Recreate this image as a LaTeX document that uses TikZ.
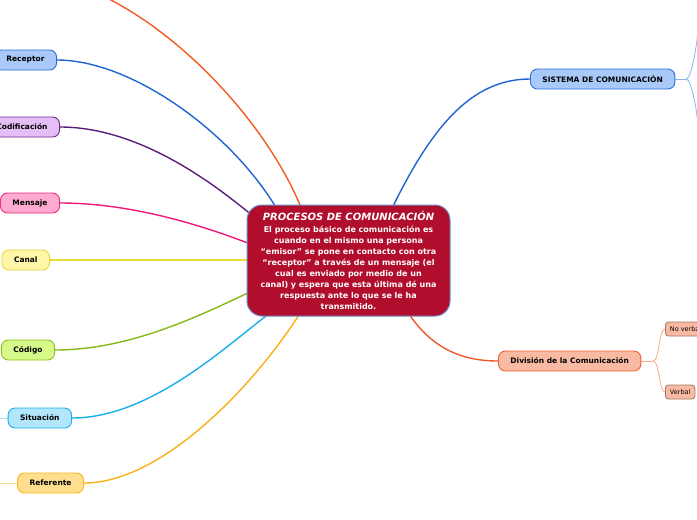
\documentclass[tikz,border=0pt]{standalone}
\usepackage{fontspec}
\newfontfamily\mapfont{DejaVu Sans}[ItalicFont={DejaVu Sans Oblique},BoldItalicFont={DejaVu Sans Bold Oblique}]
\usepackage{xcolor}
\usetikzlibrary{backgrounds}

%% Colours of the map
\definecolor{centrofill}{RGB}{176,14,44}
\definecolor{centroborde}{RGB}{110,140,200}
\definecolor{azulfill}{RGB}{169,201,249}
\definecolor{azulborde}{RGB}{42,111,214}
\definecolor{azullinea}{RGB}{30,100,210}
\definecolor{lilafill}{RGB}{230,190,247}
\definecolor{lilaborde}{RGB}{107,42,134}
\definecolor{lilalinea}{RGB}{90,30,120}
\definecolor{rosafill}{RGB}{255,170,208}
\definecolor{rosaborde}{RGB}{238,42,123}
\definecolor{rosalinea}{RGB}{240,24,122}
\definecolor{amarfill}{RGB}{255,246,168}
\definecolor{amarborde}{RGB}{232,216,58}
\definecolor{amarlinea}{RGB}{232,220,58}
\definecolor{verdefill}{RGB}{215,249,138}
\definecolor{verdeborde}{RGB}{141,190,30}
\definecolor{verdelinea}{RGB}{134,184,24}
\definecolor{celestefill}{RGB}{178,230,252}
\definecolor{celesteborde}{RGB}{27,174,232}
\definecolor{celestelinea}{RGB}{24,174,236}
\definecolor{orofill}{RGB}{255,223,142}
\definecolor{oroborde}{RGB}{249,182,30}
\definecolor{orolinea}{RGB}{248,176,24}
\definecolor{naranjalinea}{RGB}{244,90,34}
\definecolor{salmonfill}{RGB}{249,186,164}
\definecolor{salmonborde}{RGB}{240,96,42}
\definecolor{salmonlinea}{RGB}{240,88,42}
\definecolor{pardoborde}{RGB}{160,120,102}
\definecolor{sisrama}{RGB}{142,180,238}
\definecolor{divrama}{RGB}{248,168,136}
\definecolor{sitfino}{RGB}{168,220,246}
\definecolor{reffino}{RGB}{252,216,144}

\begin{document}
\begin{tikzpicture}[x=1pt,y=-1pt,
    tema/.style={draw,rounded corners=7pt,line width=0.9pt,minimum height=20pt,
        inner xsep=12pt,inner ysep=0pt,font=\mapfont\bfseries\fontsize{7.5}{8}\selectfont},
    sub/.style={draw,rounded corners=3pt,line width=0.8pt,minimum height=14pt,
        inner xsep=4.5pt,inner ysep=0pt,font=\mapfont\fontsize{6.5}{8}\selectfont},
    rama/.style={line width=1.4pt},
    hilo/.style={line width=0.8pt}]
        \useasboundingbox (0,0) rectangle (697,520);

        %% Central idea
        \node [draw=centroborde,fill=centrofill,text=white,rounded corners=15pt,line width=1pt,
            minimum width=203pt,minimum height=111pt,align=center,
            font=\mapfont\bfseries\fontsize{8}{11}\selectfont] (centro) at (348.5,260.5)
            {{\fontsize{10}{11}\selectfont\itshape PROCESOS DE COMUNICACIÓN}\\[0.5pt]
            El proceso básico de comunicación es\\
            cuando en el mismo una persona\\
            “emisor” se pone en contacto con otra\\
            “receptor” a través de un mensaje (el\\
            cual es enviado por medio de un\\
            canal) y espera que esta última dé una\\
            respuesta ante lo que se le ha\\
            transmitido.};

        %% Left topics
        \node [tema,draw=azulborde,fill=azulfill,anchor=east] (receptor) at (57,60) {Receptor};
        \node [tema,draw=lilaborde,fill=lilafill,anchor=east] (codif) at (60,127) {Codificación};
        \node [tema,draw=rosaborde,fill=rosafill,anchor=east] (mensaje) at (60,203) {Mensaje};
        \node [tema,draw=amarborde,fill=amarfill,anchor=east] (canal) at (50,260) {Canal};
        \node [tema,draw=verdeborde,fill=verdefill,anchor=east] (codigo) at (55,350) {Código};
        \node [tema,draw=celesteborde,fill=celestefill,anchor=east] (situacion) at (72,418) {Situación};
        \node [tema,draw=oroborde,fill=orofill,anchor=east] (referente) at (84,483) {Referente};

        %% Right topics
        \node [tema,draw=azulborde,fill=azulfill,anchor=west] (sistema) at (530,79) {SISTEMA DE COMUNICACIÓN};
        \node [tema,draw=salmonborde,fill=salmonfill,anchor=west] (division) at (498,361) {División de la Comunicación};
        \node [sub,draw=pardoborde,fill=salmonfill,anchor=west] (noverbal) at (665,329) {No verbal};
        \node [sub,draw=pardoborde,fill=salmonfill,anchor=west] (verbal) at (665,392) {Verbal};

        %% Ends that leave the picture
        \coordinate (arriba) at (107,-2);
        \coordinate (sisarriba) at (699,10);
        \coordinate (sisabajo) at (699,145);
        \coordinate (sitfuera) at (-10,418);
        \coordinate (reffuera) at (-10,483);

        %% Branches
        \begin{scope}[on background layer]
        \draw [rama,naranjalinea,shorten >=-2pt] (arriba) .. controls +(83,42) and +(-31,-75) .. (centro.131);
        \draw [rama,azullinea,shorten >=-2pt] (receptor.east) .. controls +(73,0) and +(-46,-75) .. (centro.143);
        \draw [rama,lilalinea,shorten >=-3pt] (codif.east) .. controls +(80,0) and +(-32,-26) .. (centro.154);
        \draw [rama,rosalinea,shorten >=-2pt] (mensaje.east) .. controls +(70,0) and +(-47,-18) .. (centro.170);
        \draw [rama,amarlinea,shorten >=-2pt] (canal.east) -- (canal.east -| centro.west);
        \draw [rama,verdelinea,shorten >=-2pt] (codigo.east) .. controls +(75,0) and +(-47,22) .. (centro.198);
        \draw [rama,celestelinea,shorten >=-2pt] (situacion.east) .. controls +(78,0) and +(-40,30) .. (centro.214);
        \draw [rama,orolinea,shorten >=-2pt] (referente.east) .. controls +(76,0) and +(-48,74) .. (centro.228);
        \draw [rama,azullinea,shorten >=-2pt] (sistema.west) .. controls +(-60,0) and +(37,-75) .. (centro.51);
        \draw [rama,salmonlinea,shorten >=-2pt] (division.west) .. controls +(-40,0) and +(20,29) .. (centro.318);

        %% Thin sub-branches
        \draw [hilo,sisrama] (sistema.east) -- ++(11,0) coordinate (sisnudo);
        \draw [hilo,sisrama] (sisnudo) .. controls +(5,0) and +(0,30) .. (sisarriba);
        \draw [hilo,sisrama] (sisnudo) .. controls +(5,0) and +(0,-30) .. (sisabajo);
        \draw [hilo,divrama] (division.east) -- ++(12,0) coordinate (divnudo);
        \draw [hilo,divrama] (divnudo) .. controls +(6,0) and +(-6,0) .. (noverbal.west);
        \draw [hilo,divrama] (divnudo) .. controls +(6,0) and +(-6,0) .. (verbal.west);
        \draw [hilo,sitfino] (sitfuera) -- (situacion.west);
        \draw [hilo,reffino] (reffuera) -- (referente.west);
        \end{scope}
    \end{tikzpicture}
\end{document}
